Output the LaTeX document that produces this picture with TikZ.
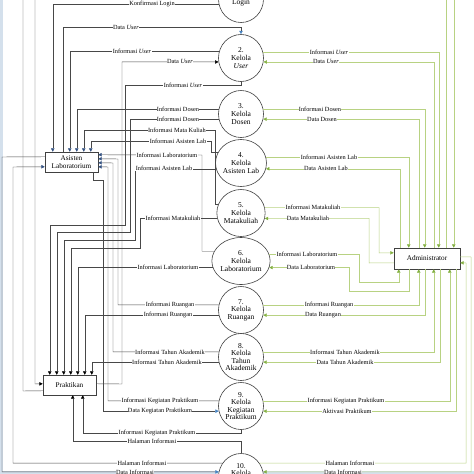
\documentclass[tikz,border=0pt]{standalone}
\usepackage{fontspec}
\setmainfont{Liberation Serif}
\usetikzlibrary{arrows.meta,shapes.geometric}
\definecolor{lineg}{RGB}{72,72,72}
\definecolor{lineh}{RGB}{184,210,130}
\definecolor{tiph}{RGB}{132,176,66}
\definecolor{tipa}{RGB}{50,80,128}
\definecolor{tipb}{RGB}{70,130,192}
\definecolor{band}{RGB}{212,224,236}
\tikzset{
  proc/.style={ellipse,draw=black!75,line width=0.6pt,fill=white,
    minimum width=45pt,minimum height=47pt,inner sep=0pt,align=center,
    font=\fontsize{7.5}{7.6}\selectfont},
  ent/.style={rectangle,draw=black!75,line width=0.5pt,fill=white,
    inner sep=1pt,align=center,font=\fontsize{7.2}{7.8}\selectfont},
  lbl/.style={fill=white,inner sep=0.4pt,font=\fontsize{6.3}{6.3}\selectfont},
  lf/.style={draw=lineg,line width=0.45pt},
  rt/.style={draw=lineh,line width=0.5pt},
  ta/.style={-{Triangle[length=3.4pt,width=3.4pt,color=tipa]}},
  tk/.style={-{Triangle[length=3.4pt,width=3.4pt,color=black]}},
  ik/.style={{Triangle[length=3.4pt,width=3.4pt,color=black]}-},
  ib/.style={{Triangle[length=3.4pt,width=3.4pt,color=tipb]}-},
  th/.style={-{Triangle[length=3.4pt,width=3.4pt,color=tiph]}},
  ih/.style={{Triangle[length=3.4pt,width=3.4pt,color=tiph]}-}
}
\begin{document}
\begin{tikzpicture}[x=1pt,y=-1pt]
\useasboundingbox (0,0) rectangle (474,474);
\clip (0,0) rectangle (474,474);
\fill [band] (0,0) rectangle (3,474);
\fill [band] (0,471) rectangle (474,474);
% processes
\node [proc] (login) at (241,-1) {1.\\Login};
\node [proc] (user) at (241,58) {2.\\Kelola\\\textit{User}};
\node [proc] (dosen) at (241,114) {3.\\Kelola\\Dosen};
\node [proc] (asisten) at (241,163) {4.\\Kelola\\Asisten Lab};
\node [proc] (matkul) at (241,213) {5.\\Kelola\\Matakuliah};
\node [proc] (lab) at (241,261) {6.\\Kelola\\Laboratorium};
\node [proc] (ruang) at (241,310) {7.\\Kelola\\Ruangan};
\node [proc] (tahun) at (241,357) {8.\\Kelola\\Tahun\\Akademik};
\node [proc] (kegiatan) at (241,406) {9.\\Kelola\\Kegiatan\\Praktikum};
\node [proc] (halaman) at (241,477) {10.\\Kelola\\Halaman\\\phantom{Informasi}};
% entities
\node [ent,minimum width=53pt,minimum height=20pt] (aslab) at (71.5,162) {Asisten\\Laboratorium};
\node [ent,minimum width=53pt,minimum height=20pt] (praktikan) at (69.5,385) {Praktikan};
\node [ent,minimum width=66pt,minimum height=21pt] (admin) at (427,258.5) {Administrator};
% left flows
\draw [lf,ta] (login.192) -| ([xshift=8pt]aslab.north west);
\draw [lf,ib] (user.north) -- (241,27) -| ([xshift=18pt]aslab.north west);
\draw [lf,ta] (user.163) -| ([xshift=25pt]aslab.north west);
\draw [lf,ik] (user.190) -| (122,384) -- ([yshift=-9pt]praktikan.north east);
\draw [lf,tk] (user.south) |- (125,85) -- (125,225) -| ([xshift=7pt]praktikan.north west);
\draw [lf,ta] (dosen.167) -| ([xshift=32pt]aslab.north west);
\draw [lf,tk] (dosen.193) -| (130,232) -| ([xshift=14pt]praktikan.north west);
\draw [lf,ta] (matkul.160) -| (215,130) -| ([xshift=39pt]aslab.north west);
\draw [lf,ta] (asisten.155) -| (211,141) -| ([xshift=46pt]aslab.north west);
\draw [lf,ta] (lab.160) -| (202,155) -- ([yshift=-3pt]aslab.north east);
\draw [lf,tk] (asisten.193) -| (135,240) -| ([xshift=21pt]praktikan.north west);
\draw [lf,tk] (matkul.193) -| (140,248) -| ([xshift=28pt]praktikan.north west);
\draw [lf,tk] (lab.193) -| ([xshift=35pt]praktikan.north west);
\draw [lf,ta] (ruang.167) -| (118,159) -- ([yshift=-7pt]aslab.north east);
\draw [lf,tk] (ruang.193) -| ([xshift=42pt]praktikan.north west);
\draw [lf,ta] (tahun.167) -| (113,163) -- ([yshift=-11pt]aslab.north east);
\draw [lf,tk] (tahun.193) -| ([xshift=49pt]praktikan.north west);
\draw [lf,ta] (kegiatan.167) -| (108,167) -- ([yshift=-15pt]aslab.north east);
\draw [lf,ib] (kegiatan.193) -| (103,180) -| ([xshift=48pt]aslab.south west);
\draw [lf,tk] (kegiatan.south) -- (241,433) -| ([xshift=40pt]praktikan.south west);
\draw [lf,tk] (halaman.north) -- (241,441) -| ([xshift=30pt]praktikan.south west);
\draw [lf,ta] (halaman.143) -| (13,167) -- ([yshift=-15pt]aslab.north west);
\draw [lf,ib] (halaman.167) -| (2,157) -- ([yshift=-5pt]aslab.north west);
\draw [lf,ik] (login.160) -| (23,391) -- ([yshift=-16pt]praktikan.north west);
\draw [lf,tk] (login.168) -| (35,384) -- ([yshift=-9pt]praktikan.north west);
% right flows
\draw [rt,th] (login.22) -| ([xshift=60pt]admin.north west);
\draw [rt,ih] (login.12) -| ([xshift=52pt]admin.north west);
\draw [rt,th] (user.15) -| ([xshift=45pt]admin.north west);
\draw [rt,ih] (user.350) -| ([xshift=40pt]admin.north west);
\draw [rt,th] (dosen.13) -| ([xshift=31pt]admin.north west);
\draw [rt,ih] (dosen.347) -| ([xshift=25pt]admin.north west);
\draw [rt,th] (asisten.13) -| ([xshift=15pt]admin.north west);
\draw [rt,ih] (asisten.347) -| ([xshift=6pt]admin.north west);
\draw [rt,th] (matkul.13) -| (379,253) -- ([yshift=-5pt]admin.north west);
\draw [rt,ih] (matkul.347) -| (369,263) -- ([yshift=-15pt]admin.north west);
\draw [rt,th] (lab.13) -| (359,282) -| ([xshift=5pt]admin.south west);
\draw [rt,ih] (lab.347) -| (349,291) -| ([xshift=15pt]admin.south west);
\draw [rt,th] (ruang.13) -| ([xshift=25pt]admin.south west);
\draw [rt,ih] (ruang.347) -| ([xshift=31pt]admin.south west);
\draw [rt,th] (tahun.13) -| ([xshift=40pt]admin.south west);
\draw [rt,ih] (tahun.347) -| ([xshift=46pt]admin.south west);
\draw [rt,th] (kegiatan.13) -| ([xshift=56pt]admin.south west);
\draw [rt,ih] (kegiatan.347) -| ([xshift=62pt]admin.south west);
\draw [rt,th] (halaman.37) -| (466,263) -- ([yshift=-15pt]admin.north east);
\draw [rt,ih] (halaman.13) -| (471,257) -- ([yshift=-9pt]admin.north east);
% left labels
\node [lbl] (lkonf) at (login.192 -| 152,0) {Konfirmasi Login};
\node [lbl] (ldu1) at (126,27) {Data \textit{User}};
\node [lbl] (liu1) at (user.163 -| 132,0) {Informasi \textit{User}};
\node [lbl] (ldu2) at (user.190 -| 180,0) {Data \textit{User}};
\node [lbl] (liu2) at (183,85) {Informasi \textit{User}};
\node [lbl] (lid1) at (dosen.167 -| 178,0) {Informasi Dosen};
\node [lbl] (lid2) at (dosen.193 -| 178,0) {Informasi Dosen};
\node [lbl] (limk1) at (177,130) {Informasi Mata Kuliah};
\node [lbl] (lial1) at (178,141) {Informasi Asisten Lab};
\node [lbl] (lil1) at (167,155) {Informasi Laboratorium};
\node [lbl] (lial2) at (asisten.193 -| 164,0) {Informasi Asisten Lab};
\node [lbl] (limk2) at (matkul.193 -| 173,0) {Informasi Matakuliah};
\node [lbl] (lil2) at (lab.193 -| 168,0) {Informasi Laboratorium};
\node [lbl] (lir1) at (ruang.167 -| 170,0) {Informasi Ruangan};
\node [lbl] (lir2) at (ruang.193 -| 168,0) {Informasi Ruangan};
\node [lbl] (lit1) at (tahun.167 -| 170,0) {Informasi Tahun Akademik};
\node [lbl] (lit2) at (tahun.193 -| 167,0) {Informasi Tahun Akademik};
\node [lbl] (lik1) at (kegiatan.167 -| 160,0) {Informasi Kegiatan Praktikum};
\node [lbl] (ldk) at (kegiatan.193 -| 160,0) {Data Kegiatan Praktikum};
\node [lbl] (lik2) at (157,433) {Informasi Kegiatan Praktikum};
\node [lbl] (lhi1) at (152,441) {Halaman Informasi};
\node [lbl] (lhi2) at (halaman.143 -| 142,0) {Halaman Informasi};
\node [lbl] (ldi) at (halaman.167 -| 135,0) {Data Informasi};
% right labels
\node [lbl] (riu) at (user.15 -| 329,0) {Informasi \textit{User}};
\node [lbl] (rdu) at (user.350 -| 326,0) {Data \textit{User}};
\node [lbl] (rid) at (dosen.13 -| 320,0) {Informasi Dosen};
\node [lbl] (rdd) at (dosen.347 -| 322,0) {Data Dosen};
\node [lbl] (rial) at (asisten.13 -| 329,0) {Informasi Asisten Lab};
\node [lbl] (rdal) at (asisten.347 -| 326,0) {Data Asisten Lab};
\node [lbl] (rimk) at (matkul.13 -| 313,0) {Informasi Matakuliah};
\node [lbl] (rdmk) at (matkul.347 -| 308,0) {Data Matakuliah};
\node [lbl] (ril) at (lab.13 -| 307,0) {Informasi Laboratorium};
\node [lbl] (rdl) at (lab.347 -| 311,0) {Data Laboratorium};
\node [lbl] (rir) at (ruang.13 -| 329,0) {Informasi Ruangan};
\node [lbl] (rdr) at (ruang.347 -| 323,0) {Data Ruangan};
\node [lbl] (rit) at (tahun.13 -| 345,0) {Informasi Tahun Akademik};
\node [lbl] (rdt) at (tahun.347 -| 345,0) {Data Tahun Akademik};
\node [lbl] (rik) at (kegiatan.13 -| 346,0) {Informasi Kegiatan Praktikum};
\node [lbl] (rak) at (kegiatan.347 -| 347,0) {Aktivasi Praktikum};
\node [lbl] (rhi) at (halaman.37 -| 350,0) {Halaman Informasi};
\node [lbl] (rdi) at (halaman.13 -| 343,0) {Data Informasi};
\end{tikzpicture}
\end{document}
